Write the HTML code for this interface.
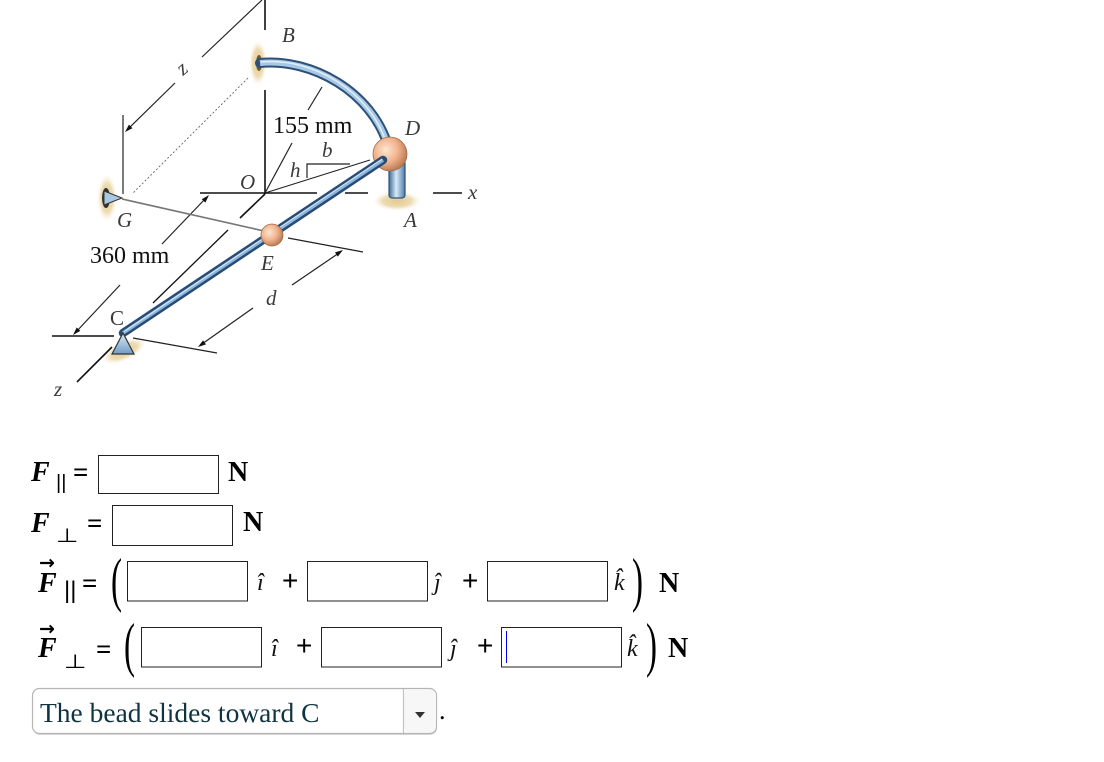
<!DOCTYPE html>
<html><head><meta charset="utf-8"><style>
html,body{margin:0;padding:0;background:#fff;}
svg{display:block;}
.lab{font-family:"Liberation Serif",serif;font-style:italic;font-size:21px;fill:#3a3a3a;}
.dim{font-family:"Liberation Serif",serif;font-size:24px;fill:#111;}
.F{font-family:"Liberation Serif",serif;font-style:italic;font-weight:bold;font-size:28px;fill:#000;}
.N{font-family:"Liberation Serif",serif;font-weight:bold;font-size:28px;fill:#000;}
.eq{font-family:"Liberation Serif",serif;font-weight:bold;font-size:27px;fill:#000;}
.sans{font-family:"Liberation Sans",sans-serif;fill:#000;}
.dv{font-family:"DejaVu Sans",sans-serif;fill:#000;}
.hat{font-family:"Liberation Serif",serif;font-style:italic;font-size:24px;fill:#111;}
.box{fill:#fff;stroke:#222;stroke-width:1;}
.par{font-family:"Liberation Serif",serif;font-size:30px;fill:#000;}
</style></head><body>
<svg width="1104" height="762" viewBox="0 0 1104 762" xmlns="http://www.w3.org/2000/svg">
<defs>
 <radialGradient id="ball" cx="38%" cy="38%" r="65%">
  <stop offset="0" stop-color="#fde6d2"/>
  <stop offset="0.55" stop-color="#f1b38c"/>
  <stop offset="1" stop-color="#b97a55"/>
 </radialGradient>
 <radialGradient id="glow">
  <stop offset="0" stop-color="#e3c98e"/>
  <stop offset="0.6" stop-color="#eddcb3"/>
  <stop offset="1" stop-color="#fbf5e8" stop-opacity="0"/>
 </radialGradient>
 <linearGradient id="post" x1="0" x2="1" y1="0" y2="0">
  <stop offset="0" stop-color="#3f6d98"/>
  <stop offset="0.45" stop-color="#d8eaf8"/>
  <stop offset="1" stop-color="#4d7ba5"/>
 </linearGradient>
 <linearGradient id="cone" x1="0" x2="0" y1="0" y2="1">
  <stop offset="0" stop-color="#dbeaf7"/>
  <stop offset="1" stop-color="#6f9cc6"/>
 </linearGradient>
</defs>
<rect width="1104" height="762" fill="#fff"/>

<!-- supports glow -->
<ellipse cx="258" cy="63" rx="9" ry="23" fill="url(#glow)"/>
<ellipse cx="107" cy="198" rx="10" ry="24" fill="url(#glow)"/>
<ellipse cx="397" cy="201" rx="24" ry="10" fill="url(#glow)"/>
<ellipse cx="124" cy="351" rx="24" ry="10" fill="url(#glow)" transform="rotate(-25 124 351)"/>

<!-- axes -->
<g stroke="#111" stroke-width="1.6" fill="none">
 <line x1="265" y1="0" x2="265" y2="30"/>
 <line x1="265" y1="90" x2="265" y2="194"/>
 <line x1="200" y1="193" x2="317" y2="193"/>
 <line x1="345" y1="193" x2="368" y2="193"/>
 <line x1="433" y1="193" x2="462" y2="193"/>
 <line x1="265" y1="194" x2="240" y2="218"/>
 <line x1="228" y1="230" x2="153" y2="303" stroke-width="1.3"/>
 <line x1="112" y1="347" x2="77" y2="382"/>
 <line x1="52" y1="336" x2="114" y2="336"/>
</g>
<!-- dimension lines -->
<g stroke="#222" stroke-width="1.2" fill="none">
 <line x1="262" y1="0" x2="202" y2="57"/>
 <line x1="175" y1="83" x2="127" y2="130"/>
 <line x1="123" y1="115" x2="123" y2="194"/>
 <line x1="265" y1="193" x2="292" y2="143"/>
 <line x1="308" y1="110" x2="322" y2="87"/>
 <line x1="265" y1="193" x2="370" y2="160" stroke-width="1"/>
 <polyline points="350,164 307,164 307,178"/>
 <line x1="205" y1="199" x2="162" y2="244"/>
 <line x1="120" y1="285" x2="76" y2="332"/>
 <line x1="133" y1="338" x2="217" y2="353"/>
 <line x1="288" y1="238" x2="363" y2="252"/>
 <line x1="202" y1="344" x2="253" y2="308"/>
 <line x1="292" y1="285" x2="339" y2="253"/>
</g>
<line x1="248" y1="78" x2="133" y2="193" stroke="#666" stroke-width="0.9" stroke-dasharray="2 2"/>
<g fill="#111">
 <polygon points="125,132 132.4,128.2 129,124.6"/>
 <polygon points="209,195 205.4,202.6 201.8,199.2"/>
 <polygon points="73,335 80.3,330.9 76.7,327.5"/>
 <polygon points="198,347 206,344.4 203,340.4"/>
 <polygon points="343,250 337.8,256.6 335,252.4"/>
</g>

<!-- B mount -->
<ellipse cx="259" cy="63" rx="3" ry="8" fill="#6b5a3a"/>
<!-- arc tube -->
<path d="M260 63 C 312 58, 372 92, 388 146" fill="none" stroke="#2e5277" stroke-width="10" stroke-linecap="round"/>
<path d="M260 63 C 312 58, 372 92, 388 146" fill="none" stroke="#a7c8e6" stroke-width="6"/>
<path d="M261 62 C 312 57, 371 91, 387 145" fill="none" stroke="#e2eff9" stroke-width="1.5"/>
<!-- post -->
<rect x="389" y="160" width="16" height="38" rx="3" fill="url(#post)" stroke="#2f5278" stroke-width="1.2"/>
<!-- G mount -->
<ellipse cx="106" cy="198" rx="4" ry="10" fill="#333"/>
<polygon points="104,191 122,198 104,205" fill="#a9c8e4" stroke="#333" stroke-width="1"/>
<!-- cord -->
<line x1="122" y1="199" x2="264" y2="231" stroke="#777" stroke-width="1.6"/>
<!-- D ball -->
<circle cx="390" cy="154" r="17" fill="url(#ball)" stroke="#a06a48" stroke-width="0.8"/>
<!-- rod -->
<line x1="123" y1="333" x2="383" y2="160" stroke="#284c75" stroke-width="8.5" stroke-linecap="round"/>
<line x1="123" y1="333" x2="383" y2="160" stroke="#8fb8dd" stroke-width="3.5"/>
<line x1="124" y1="331.5" x2="382" y2="159" stroke="#dcebf7" stroke-width="1"/>
<!-- C support -->
<polygon points="123,333 112,354 134,354" fill="url(#cone)" stroke="#333" stroke-width="1.2"/>
<!-- E bead -->
<circle cx="272" cy="235" r="11" fill="url(#ball)" stroke="#a06a48" stroke-width="0.8"/>

<!-- labels -->
<text class="lab" x="282" y="42">B</text>
<text class="lab" x="405" y="135">D</text>
<text class="lab" x="404" y="227">A</text>
<text class="lab" x="117" y="227">G</text>
<text class="lab" x="261" y="270">E</text>
<text class="lab" x="110" y="325" style="font-style:normal">C</text>
<text class="lab" x="240" y="189">O</text>
<text class="lab" x="290" y="177">h</text>
<text class="lab" x="322" y="157">b</text>
<text class="lab" x="266" y="305">d</text>
<text class="lab" x="468" y="199">x</text>
<text class="lab" x="54" y="396">z</text>
<text class="lab" x="0" y="0" transform="translate(183,76) rotate(-40)">z</text>
<text class="dim" x="273" y="133">155 mm</text>
<text class="dim" x="90" y="263">360 mm</text>

<!-- Row 1 -->
<text class="F" x="31" y="481">F</text>
<text class="sans" x="56" y="489" font-size="20">||</text>
<text class="eq" x="73" y="481">=</text>
<rect class="box" x="98.5" y="455.5" width="120" height="38"/>
<text class="N" x="228" y="481">N</text>

<!-- Row 2 -->
<text class="F" x="31" y="532">F</text>
<text class="dv" font-size="26" transform="translate(56,542) scale(1,0.74)">⊥</text>
<text class="eq" x="87" y="532">=</text>
<rect class="box" x="112.5" y="505.5" width="120" height="40"/>
<text class="N" x="243" y="531">N</text>

<!-- Row 3 -->
<text class="dv" font-size="19" x="39" y="569" font-weight="bold">→</text>
<text class="F" x="38" y="592">F</text>
<text class="sans" x="64" y="598" font-size="24">||</text>
<text class="eq" x="82" y="592">=</text>
<text class="par" transform="translate(111,600) scale(1.1,2)">(</text>
<rect class="box" x="127.5" y="561.5" width="120" height="39.5"/>
<text class="hat" x="257" y="590">î</text>
<text class="sans" x="282" y="590" font-size="28">+</text>
<rect class="box" x="307.5" y="561.5" width="120" height="39.5"/>
<text class="hat" x="434" y="590">ĵ</text>
<text class="sans" x="462" y="590" font-size="28">+</text>
<rect class="box" x="487.5" y="561.5" width="120" height="39.5"/>
<text class="hat" x="614" y="590">k̂</text>
<text class="par" transform="translate(632,600) scale(1.1,2)">)</text>
<text class="N" x="659" y="592">N</text>

<!-- Row 4 -->
<text class="dv" font-size="19" x="39" y="635" font-weight="bold">→</text>
<text class="F" x="38" y="657">F</text>
<text class="dv" font-size="26" transform="translate(64,668) scale(1,0.74)">⊥</text>
<text class="eq" x="96" y="658">=</text>
<text class="par" transform="translate(124,665) scale(1.1,2)">(</text>
<rect class="box" x="141.5" y="627.5" width="120" height="39.5"/>
<text class="hat" x="271" y="656">î</text>
<text class="sans" x="296" y="655" font-size="28">+</text>
<rect class="box" x="321.5" y="627.5" width="120" height="39.5"/>
<text class="hat" x="450" y="656">ĵ</text>
<text class="sans" x="477" y="655" font-size="28">+</text>
<rect class="box" x="501.5" y="627.5" width="120" height="39.5"/>
<line x1="506.5" y1="631" x2="506.5" y2="663" stroke="#0000ee" stroke-width="1"/>
<text class="hat" x="627" y="656">k̂</text>
<text class="par" transform="translate(646,665) scale(1.1,2)">)</text>
<text class="N" x="668" y="657">N</text>

<!-- dropdown -->
<rect x="33" y="690" width="404" height="45" rx="7" fill="#d8d8d8"/>
<rect x="32.5" y="688.5" width="404" height="45" rx="7" fill="#fff" stroke="#b5b5b5" stroke-width="1.2"/>
<rect x="404" y="689.5" width="32" height="43" rx="6" fill="#f7f7f7"/>
<line x1="403.5" y1="689" x2="403.5" y2="733" stroke="#c4c4c4" stroke-width="1.2"/>
<polygon points="415,712 425,712 420,718" fill="#333"/>
<text x="40" y="722" font-family="Liberation Serif,serif" font-size="27.5" fill="#0f3340">The bead slides toward C</text>
<text x="439" y="719" font-family="Liberation Serif,serif" font-size="26" fill="#000">.</text>
</svg>
</body></html>
